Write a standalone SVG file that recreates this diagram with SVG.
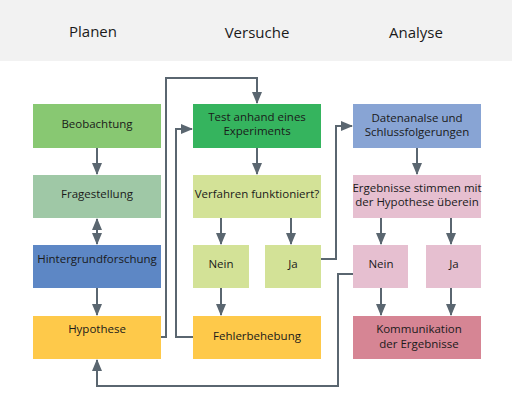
<svg xmlns="http://www.w3.org/2000/svg" width="512" height="409" viewBox="0 0 512 409">
<style>
.t{font-family:"Open Sans","Liberation Sans",sans-serif;font-size:11.5px;fill:#1a1a1a;text-anchor:middle}
.h{font-family:"Open Sans","Liberation Sans",sans-serif;font-size:15px;fill:#1a1a1a;text-anchor:middle}
.c{fill:none;stroke:#5a6670;stroke-width:2}
</style>
<defs>
<marker id="a" viewBox="0 0 12 10" refX="11" refY="5" markerWidth="12" markerHeight="10" markerUnits="userSpaceOnUse" orient="auto-start-reverse">
<path d="M0,0 L12,5 L0,10 Z" fill="#5a6670"/>
</marker>
</defs>
<rect x="0" y="0" width="512" height="409" fill="#fff"/>
<rect x="0" y="0" width="512" height="61" fill="#f2f2f2"/>
<text class="h" x="93" y="37">Planen</text>
<text class="h" x="257" y="38">Versuche</text>
<text class="h" x="416" y="38">Analyse</text>

<g id="connectors">
<path class="c" d="M97,148 V174" marker-end="url(#a)"/>
<path class="c" d="M97,219 V244" marker-start="url(#a)" marker-end="url(#a)"/>
<path class="c" d="M97,288 V315" marker-end="url(#a)"/>
<path class="c" d="M161,337 H166 V78 H257 V103" marker-end="url(#a)"/>
<path class="c" d="M193,337 H176 V129 H192" marker-end="url(#a)"/>
<path class="c" d="M257,148 V174" marker-end="url(#a)"/>
<path class="c" d="M221,218 V244" marker-end="url(#a)"/>
<path class="c" d="M291,218 V244" marker-end="url(#a)"/>
<path class="c" d="M221,288 V315" marker-end="url(#a)"/>
<path class="c" d="M321,259 H336 V126 H352" marker-end="url(#a)"/>
<path class="c" d="M417,148 V174" marker-end="url(#a)"/>
<path class="c" d="M381,218 V244" marker-end="url(#a)"/>
<path class="c" d="M451,218 V244" marker-end="url(#a)"/>
<path class="c" d="M381,288 V315" marker-end="url(#a)"/>
<path class="c" d="M451,288 V315" marker-end="url(#a)"/>
<path class="c" d="M353,274 H338 V386 H97 V360" marker-end="url(#a)"/>
</g>

<g id="beobachtung"><rect x="33" y="104" width="128" height="44" fill="#88c872"/><text class="t" x="97" y="128">Beobachtung</text></g>
<g id="fragestellung"><rect x="33" y="175" width="128" height="43" fill="#9fc8a6"/><text class="t" x="97" y="198">Fragestellung</text></g>
<g id="hintergrund"><rect x="33" y="245" width="128" height="43" fill="#5d87c5"/><text class="t" x="97" y="263">Hintergrundforschung</text></g>
<g id="hypothese"><rect x="33" y="316" width="128" height="43" fill="#fec94a"/><text class="t" x="97" y="333">Hypothese</text></g>

<g id="test"><rect x="193" y="104" width="128" height="44" fill="#35b45e"/><text class="t" x="257" y="121">Test anhand eines</text><text class="t" x="257" y="135">Experiments</text></g>
<g id="verfahren"><rect x="193" y="175" width="128" height="43" fill="#d3e297"/><text class="t" x="257" y="198">Verfahren funktioniert?</text></g>
<g id="nein1"><rect x="193" y="245" width="56" height="43" fill="#d3e297"/><text class="t" x="221" y="268">Nein</text></g>
<g id="ja1"><rect x="265" y="245" width="56" height="43" fill="#d3e297"/><text class="t" x="293" y="268">Ja</text></g>
<g id="fehler"><rect x="193" y="316" width="128" height="43" fill="#fec94a"/><text class="t" x="257" y="340">Fehlerbehebung</text></g>

<g id="daten"><rect x="353" y="104" width="128" height="44" fill="#88a4d4"/><text class="t" x="417" y="122">Datenanalse und</text><text class="t" x="417" y="136">Schlussfolgerungen</text></g>
<g id="ergebnisse"><rect x="353" y="175" width="128" height="43" fill="#e6bfd0"/><text class="t" x="417" y="192">Ergebnisse stimmen mit</text><text class="t" x="417" y="206">der Hypothese überein</text></g>
<g id="nein2"><rect x="353" y="245" width="55" height="43" fill="#e6bfd0"/><text class="t" x="381" y="268">Nein</text></g>
<g id="ja2"><rect x="426" y="245" width="55" height="43" fill="#e6bfd0"/><text class="t" x="454" y="268">Ja</text></g>
<g id="kommunikation"><rect x="353" y="316" width="128" height="43" fill="#d68594"/><text class="t" x="419" y="333">Kommunikation</text><text class="t" x="419" y="348">der Ergebnisse</text></g>
</svg>
